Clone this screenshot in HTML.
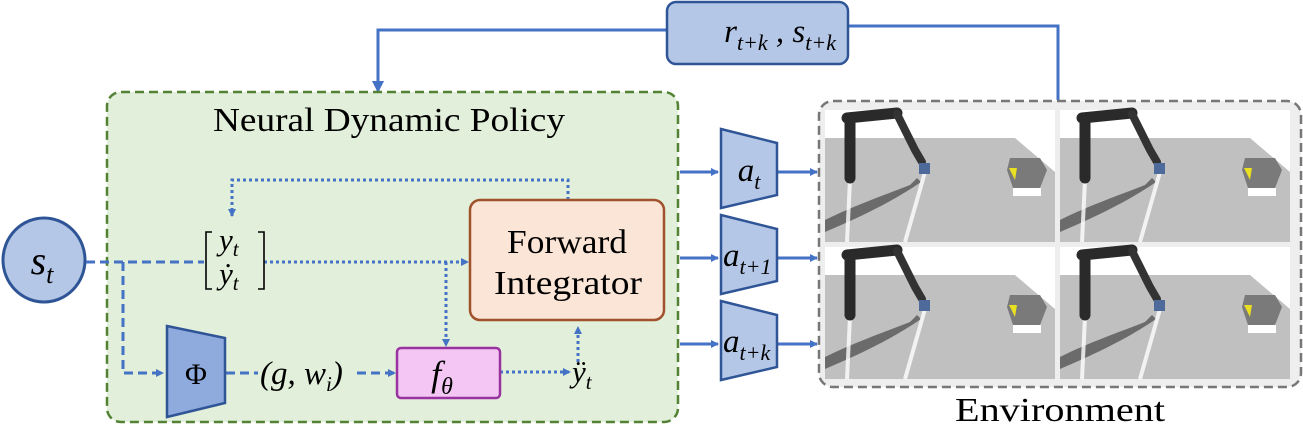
<!DOCTYPE html>
<html><head><meta charset="utf-8"><style>
html,body{margin:0;padding:0;background:#fff;}
svg{display:block;}
text{font-family:"Liberation Serif",serif;}
</style></head><body>
<svg width="1303" height="427" viewBox="0 0 1303 427" xmlns="http://www.w3.org/2000/svg">
<defs>
<marker id="ar" markerWidth="8" markerHeight="8" refX="7" refY="4" orient="auto" markerUnits="userSpaceOnUse">
<path d="M0,0 L8,4 L0,8 z" fill="#4472c4"/></marker>
<marker id="arb" markerWidth="12" markerHeight="12" refX="11" refY="6" orient="auto" markerUnits="userSpaceOnUse">
<path d="M0,0 L12,6 L0,12 z" fill="#4472c4"/></marker>
<g id="pane">
<rect x="0" y="0" width="230" height="132" fill="#fff"/>
<polygon points="0,28 190,28 230,62 230,132 0,132" fill="#c0c0c0"/>
<path d="M0,110 C30,95 60,85 85,75 L92,68 L96,72 C70,90 40,105 0,122 z" fill="#555" opacity="0.8"/>
<path d="M25,70 L22,132 M100,62 L80,132" stroke="#fff" stroke-width="4" opacity="0.8"/>
<line x1="25" y1="10" x2="25" y2="68" stroke="#2a2a2a" stroke-width="11" stroke-linecap="round"/>
<line x1="22" y1="8" x2="72" y2="3" stroke="#2a2a2a" stroke-width="11" stroke-linecap="round"/>
<path d="M72,4 L90,40 L97,52" stroke="#333" stroke-width="8" fill="none" stroke-linecap="round"/>
<rect x="94" y="53" width="11" height="11" fill="#4d6a9a"/>
<polygon points="185,48 215,48 222,60 215,78 188,78 182,60" fill="#7a7a7a"/>
<polygon points="184,58 192,58 190,70" fill="#e8e020"/>
<rect x="188" y="78" width="28" height="8" fill="#fff"/>
</g>
</defs>

<!-- top feedback -->
<path d="M848,26 L1058,26 L1058,100" stroke="#4472c4" stroke-width="3" fill="none"/>
<path d="M667,30 L378,30 L378,92" stroke="#4472c4" stroke-width="3" fill="none" marker-end="url(#arb)"/>
<rect x="667" y="2" width="181" height="62" rx="9" fill="#b4c7e7" stroke="#2f5597" stroke-width="2.5"/>
<text x="836" y="42" font-size="33" font-style="italic" text-anchor="end">r<tspan font-size="22" dy="8">t+k</tspan><tspan dy="-8"> , s</tspan><tspan font-size="22" dy="8">t+k</tspan></text>

<!-- green box -->
<rect x="107" y="92" width="571" height="330" rx="14" fill="#e2efda" stroke="#548235" stroke-width="2.5" stroke-dasharray="9,5"/>
<text x="213" y="131" font-size="34" textLength="352" lengthAdjust="spacingAndGlyphs">Neural Dynamic Policy</text>

<!-- s_t -->
<ellipse cx="44" cy="260" rx="41" ry="42" fill="#b4c7e7" stroke="#2f5597" stroke-width="3"/>
<text x="42" y="274" font-size="40" font-style="italic" text-anchor="middle">s<tspan font-size="26" dy="9">t</tspan></text>

<!-- dashed from s_t -->
<g stroke="#4472c4" stroke-width="3" fill="none" stroke-dasharray="9,5">
<line x1="86" y1="262" x2="204" y2="262"/>
<path d="M123,262 L123,373 L163,373" marker-end="url(#ar)"/>
<line x1="226" y1="373" x2="258" y2="373"/>
<path d="M357,373 L395,373" marker-end="url(#ar)"/>
</g>
<!-- dotted -->
<g stroke="#4472c4" stroke-width="3" fill="none" stroke-dasharray="3,3">
<path d="M264,262 L468,262" marker-end="url(#ar)"/>
<path d="M446,262 L446,346" marker-end="url(#ar)"/>
<path d="M568,200 L568,180 L232,180 L232,216" marker-end="url(#ar)"/>
<path d="M500,372 L570,372" marker-end="url(#ar)"/>
<path d="M578,362 L578,327" marker-end="url(#ar)"/>
</g>

<!-- vector -->
<path d="M212,232 L206,232 L206,289 L212,289 M258,232 L264,232 L264,289 L258,289" stroke="#000" stroke-width="1.6" fill="none"/>
<text x="219" y="250" font-size="31" font-style="italic">y<tspan font-size="21" dy="6">t</tspan></text>
<text x="219" y="284" font-size="31" font-style="italic">ẏ<tspan font-size="21" dy="6">t</tspan></text>

<!-- Forward Integrator -->
<rect x="470" y="200" width="194" height="120" rx="10" fill="#fbe5d6" stroke="#a0522d" stroke-width="2.5"/>
<text x="507" y="253" font-size="34" textLength="120" lengthAdjust="spacingAndGlyphs">Forward</text>
<text x="494" y="294" font-size="34" textLength="148" lengthAdjust="spacingAndGlyphs">Integrator</text>

<!-- Phi -->
<polygon points="167,326 225,338 225,403 167,417" fill="#8faadc" stroke="#2f5597" stroke-width="2.5"/>
<text x="196" y="384" font-size="30" text-anchor="middle">Φ</text>
<text x="260" y="384" font-size="33" font-style="italic">(g, w<tspan font-size="21" dy="7">i</tspan><tspan dy="-7">)</tspan></text>

<!-- f_theta -->
<rect x="397" y="348" width="103" height="50" rx="4" fill="#f3c6f3" stroke="#9933a0" stroke-width="2.5"/>
<text x="442" y="386" font-size="36" font-style="italic" text-anchor="middle">f<tspan font-size="24" dy="8">θ</tspan></text>
<text x="572" y="382" font-size="31" font-style="italic">ÿ<tspan font-size="21" dy="7">t</tspan></text>

<!-- actions -->
<g stroke="#4472c4" stroke-width="3" fill="none">
<path d="M680,172 L718,172" marker-end="url(#ar)"/>
<path d="M680,258 L718,258" marker-end="url(#ar)"/>
<path d="M680,344 L718,344" marker-end="url(#ar)"/>
<path d="M778,172 L817,172" marker-end="url(#ar)"/>
<path d="M778,258 L817,258" marker-end="url(#ar)"/>
<path d="M778,344 L817,344" marker-end="url(#ar)"/>
</g>
<g fill="#b4c7e7" stroke="#2f5597" stroke-width="2.5">
<polygon points="721,129 777,143 777,195 721,208"/>
<polygon points="721,215 777,229 777,281 721,294"/>
<polygon points="721,301 777,315 777,367 721,380"/>
</g>
<text x="749" y="181" font-size="33" font-style="italic" text-anchor="middle">a<tspan font-size="22" dy="8">t</tspan></text>
<text x="723" y="266" font-size="33" font-style="italic">a<tspan font-size="22" dy="8">t+1</tspan></text>
<text x="723" y="352" font-size="33" font-style="italic">a<tspan font-size="22" dy="8">t+k</tspan></text>

<!-- environment -->
<rect x="819" y="101" width="482" height="286" rx="14" fill="#eee" stroke="#777" stroke-width="2.5" stroke-dasharray="9,5"/>
<use href="#pane" x="825" y="110"/>
<use href="#pane" x="1060" y="110"/>
<use href="#pane" x="825" y="247"/>
<use href="#pane" x="1060" y="247"/>
<text x="955" y="421" font-size="34" textLength="210" lengthAdjust="spacingAndGlyphs">Environment</text>
</svg>
</body></html>
